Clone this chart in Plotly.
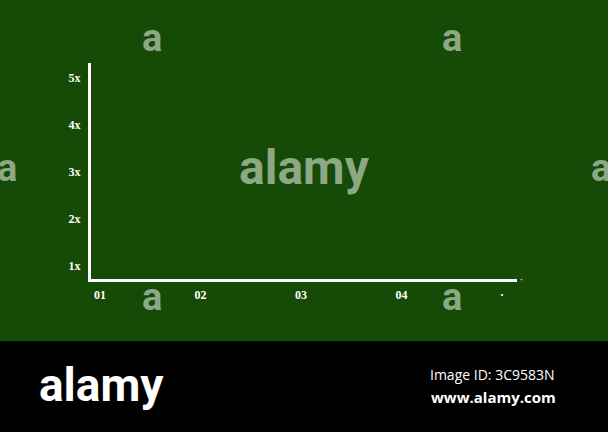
import plotly.graph_objects as go

X_VALUES = [1, 2, 3, 4, 5]
X_LABELS = ["01", "02", "03", "04", "·"]
Y_VALUES = [1, 2, 3, 4, 5]
Y_LABELS = ["1x", "2x", "3x", "4x", "5x"]

GREEN = "#164a07"
MARK = "rgba(190,205,185,0.72)"
LOGO_FONT = "Roboto, Liberation Sans, sans-serif"
TICK_FONT = dict(family="Liberation Serif, DejaVu Serif, serif", size=12, color="white", weight="bold")

W, H = 608, 432
L, R, T, B = 91, 91, 63, 153
PW, PH = W - L - R, H - T - B


def px(x, y):
    # pixel position -> paper coordinates
    return (x - L) / PW, (H - B - y) / PH


fig = go.Figure(go.Scatter(x=[], y=[], mode="markers", hoverinfo="skip"))

# black footer band
x0, y0 = px(0, H)
x1, y1 = px(W, 341)
fig.add_shape(type="rect", xref="paper", yref="paper", x0=x0, x1=x1, y0=y0, y1=y1,
              fillcolor="black", line_width=0, layer="below")

# small dot at the end of the x axis
dx, dy = px(521, 279)
fig.add_annotation(x=dx, y=dy, xref="paper", yref="paper", text="·", showarrow=False,
                   font=dict(color="white", size=10), xanchor="center", yanchor="middle")

annotations = []
for (cx, cy, anchor) in [(152, 38, "center"), (452, 38, "center"), (152, 297, "center"),
                         (452, 297, "center"), (-5, 168, "left"), (613, 168, "right")]:
    ax, ay = px(cx, cy)
    annotations.append(dict(x=ax, y=ay, text="<b>a</b>", xanchor=anchor,
                            font=dict(family=LOGO_FONT, size=38, color=MARK)))
ax, ay = px(304, 167)
annotations.append(dict(x=ax, y=ay, text="<b>alamy</b>", font=dict(family=LOGO_FONT, size=48, color=MARK)))
ax, ay = px(101, 385)
annotations.append(dict(x=ax, y=ay, text="<b>alamy</b>", font=dict(family=LOGO_FONT, size=46, color="white")))
ax, ay = px(557, 374)
annotations.append(dict(x=ax, y=ay, text="Image ID: 3C9583N", xanchor="right",
                        font=dict(family="Open Sans, sans-serif", size=14, color="white")))
ax, ay = px(558, 397)
annotations.append(dict(x=ax, y=ay, text="<b>www.alamy.com</b>", xanchor="right",
                        font=dict(family="Open Sans, sans-serif", size=15, color="white")))
for a in annotations:
    a.setdefault("xanchor", "center")
    fig.add_annotation(xref="paper", yref="paper", showarrow=False, yanchor="middle", **a)

fig.update_layout(
    width=W, height=H,
    margin=dict(l=L, r=R, t=T, b=B),
    paper_bgcolor=GREEN,
    plot_bgcolor=GREEN,
    showlegend=False,
    xaxis=dict(range=[0.91, 5.149], tickvals=X_VALUES, ticktext=X_LABELS,
               showline=True, linecolor="white", linewidth=3, showgrid=False,
               zeroline=False, ticks="", tickfont=TICK_FONT, ticklabelstandoff=3,
               fixedrange=True),
    yaxis=dict(range=[0.7234, 5.319], tickvals=Y_VALUES, ticktext=Y_LABELS,
               showline=True, linecolor="white", linewidth=3, showgrid=False,
               zeroline=False, ticks="", tickfont=TICK_FONT, ticklabelstandoff=5,
               fixedrange=True),
)

fig.write_html("out.html", config={"displayModeBar": False},
               post_script="document.body.style.margin='0';")
